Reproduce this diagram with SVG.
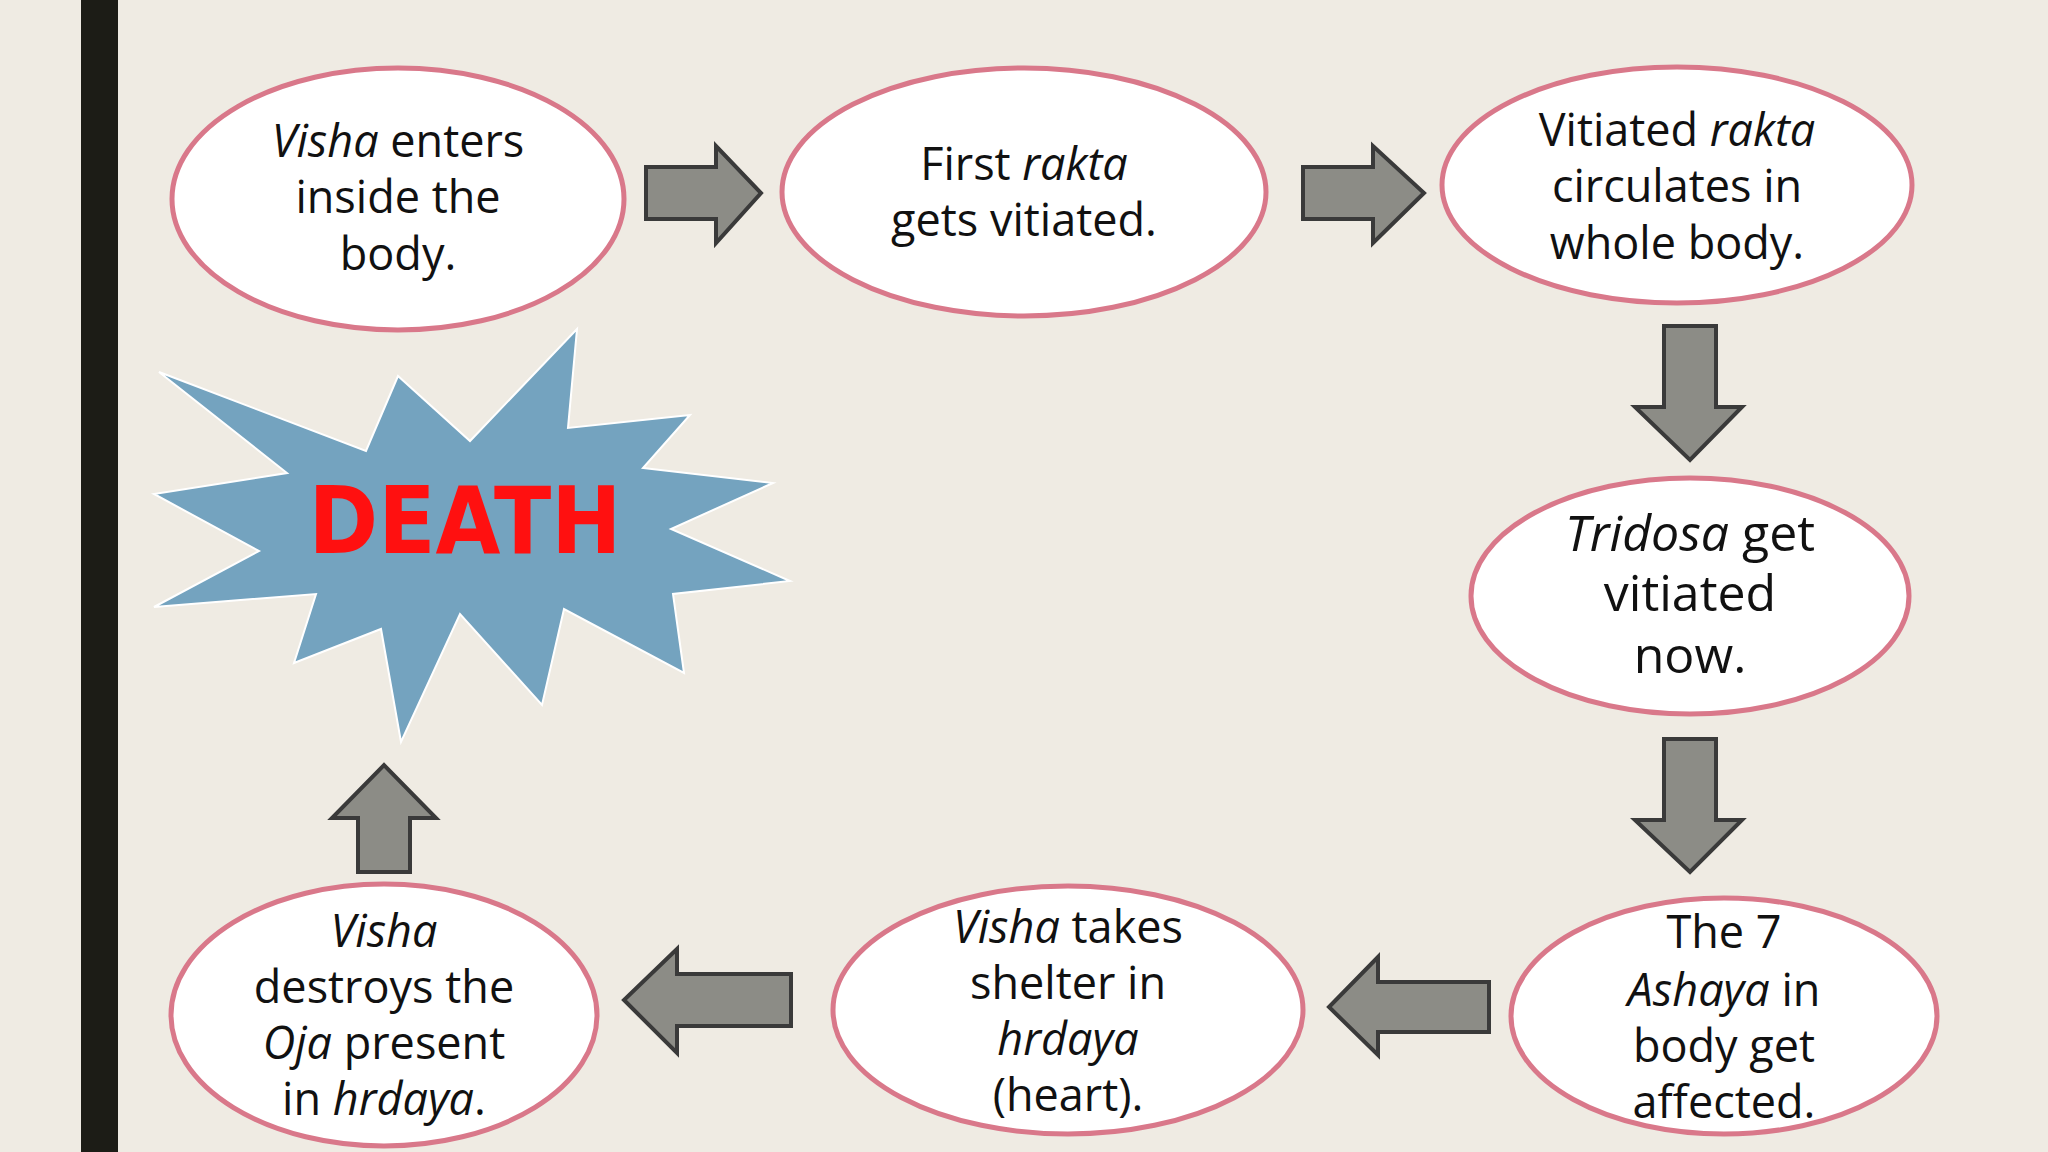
<svg xmlns="http://www.w3.org/2000/svg" width="2048" height="1152" viewBox="0 0 2048 1152">
<style>
.n{fill:#fff;stroke:#D9788A;stroke-width:5}
.a{fill:#8C8C86;stroke:#3a3a3a;stroke-width:4;stroke-linejoin:miter}
text{font-family:"Open Sans","Noto Sans",sans-serif;font-size:45px;fill:#111;text-anchor:middle}
.b{font-size:50px}
.d{font-family:"DejaVu Sans","Liberation Sans",sans-serif;font-weight:bold;font-size:92px;fill:#FF1010}
</style>
<rect width="2048" height="1152" fill="#EFEBE3"/>
<rect x="81" y="0" width="37" height="1152" fill="#1c1c16"/>
<g id="death">
<polygon fill="#74A3BF" stroke="#fff" stroke-width="2" points="159,372 366,451 398,376 470,441 577,329 568,428 690,415 643,468 773,483 671,529 790,581 673,594 684,673 564,609 542,705 460,614 401,742 381,629 294,663 316,594 154,607 259,551 154,494 287,473"/>
<text class="d" x="465" y="553" textLength="313" lengthAdjust="spacingAndGlyphs">DEATH</text>
</g>
<g id="n1"><ellipse class="n" cx="398" cy="199" rx="226" ry="131"/>
<text x="398" y="157"><tspan font-style="italic">Visha</tspan> enters</text><text x="398" y="213">inside the</text><text x="398" y="270">body.</text></g>
<g id="n2"><ellipse class="n" cx="1024" cy="192" rx="242" ry="124"/>
<text x="1024" y="180">First <tspan font-style="italic">rakta</tspan></text><text x="1024" y="236">gets vitiated.</text></g>
<g id="n3"><ellipse class="n" cx="1677" cy="185" rx="235" ry="118"/>
<text x="1677" y="146">Vitiated <tspan font-style="italic">rakta</tspan></text><text x="1677" y="202">circulates in</text><text x="1677" y="259">whole body.</text></g>
<g id="n4"><ellipse class="n" cx="1690" cy="596" rx="219" ry="118"/>
<text class="b" x="1690" y="551"><tspan font-style="italic">Tridosa</tspan> get</text><text class="b" x="1690" y="611">vitiated</text><text class="b" x="1690" y="673">now.</text></g>
<g id="n5"><ellipse class="n" cx="1724" cy="1016" rx="213" ry="118"/>
<text x="1724" y="948">The 7</text><text x="1724" y="1006"><tspan font-style="italic">Ashaya</tspan> in</text><text x="1724" y="1062">body get</text><text x="1724" y="1118">affected.</text></g>
<g id="n6"><ellipse class="n" cx="1068" cy="1010" rx="235" ry="124"/>
<text x="1068" y="943"><tspan font-style="italic">Visha</tspan> takes</text><text x="1068" y="999">shelter in</text><text x="1068" y="1055" font-style="italic">hrdaya</text><text x="1068" y="1111">(heart).</text></g>
<g id="n7"><ellipse class="n" cx="384" cy="1015" rx="213" ry="131"/>
<text x="384" y="947" font-style="italic">Visha</text><text x="384" y="1003">destroys the</text><text x="384" y="1059"><tspan font-style="italic">Oja</tspan> present</text><text x="384" y="1115">in <tspan font-style="italic">hrdaya</tspan>.</text></g>
<g id="connectors">
<polygon class="a" points="646,167 716,167 716,146 761,193 716,243 716,219 646,219"/>
<polygon class="a" points="1303,167 1373,167 1373,146 1424,193 1373,243 1373,219 1303,219"/>
<polygon class="a" points="1664,326 1716,326 1716,407 1742,407 1690,460 1635,407 1664,407"/>
<polygon class="a" points="1664,739 1716,739 1716,820 1742,820 1690,872 1635,820 1664,820"/>
<polygon class="a" points="1489,982 1378,982 1378,957 1329,1007 1378,1055 1378,1032 1489,1032"/>
<polygon class="a" points="791,974 677,974 677,949 624,1000 677,1053 677,1026 791,1026"/>
<polygon class="a" points="358,872 358,818 332,818 384,765 436,818 410,818 410,872"/>
</g>
</svg>
